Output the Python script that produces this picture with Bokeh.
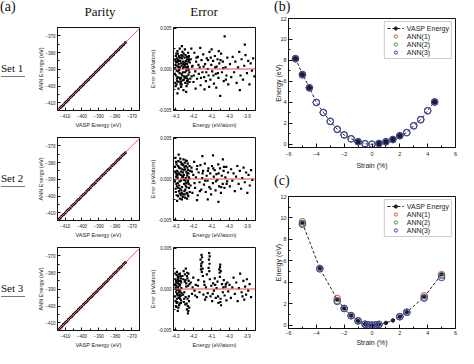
from bokeh.plotting import figure
from bokeh.layouts import row, column
from bokeh.models import Div, Range1d, FixedTicker, Slope, Span, NumeralTickFormatter
from bokeh.embed import file_html
from bokeh.resources import INLINE

# ---------------- data ----------------
set_names = ["Set 1", "Set 2", "Set 3"]

parity_ticks = [-410, -400, -390, -380, -370]
parity_minor = [-415, -405, -395, -385, -375, -365]
err_x_ticks = [-4.3, -4.2, -4.1, -4.0, -3.9]
err_x_minor = [-4.25, -4.15, -4.05, -3.95, -3.85]
err_y_ticks = [-0.005, 0.0, 0.005]
err_y_minor = [-0.0025, 0.0025]
strain_ticks = [-6, -4, -2, 0, 2, 4, 6]
strain_minor = [-5, -3, -1, 1, 3, 5]
energy_ticks = [0, 2, 4, 6, 8, 10, 12]
energy_minor = [1, 3, 5, 7, 9, 11]

vasp_e = [-414.0, -413.0, -412.0, -411.0, -410.0, -409.0, -408.0, -407.0, -406.0, -405.0,
          -404.0, -403.0, -402.0, -401.0, -400.0, -399.0, -398.0, -397.0, -396.0, -395.0,
          -394.0, -393.0, -392.0, -391.0, -390.0, -389.0, -388.0, -387.0, -386.0, -385.0,
          -384.0, -383.0, -382.0, -381.0, -380.0, -379.0, -378.0, -377.0, -376.0, -375.0,
          -374.0]
ann_e_set1 = [-414.1, -412.9, -412.0, -411.1, -409.9, -409.0, -408.1, -406.9, -406.0, -405.1,
              -403.9, -403.0, -402.1, -400.9, -400.0, -399.1, -397.9, -397.0, -396.1, -394.9,
              -394.0, -393.1, -391.9, -391.0, -390.1, -388.9, -388.0, -387.1, -385.9, -385.0,
              -384.1, -382.9, -382.0, -381.1, -379.9, -379.0, -378.1, -376.9, -376.0, -375.1,
              -373.9]
ann_e_set2 = [-413.9, -413.1, -411.9, -411.0, -410.1, -408.9, -408.0, -407.1, -405.9, -405.0,
              -404.1, -402.9, -402.0, -401.1, -399.9, -399.0, -398.1, -396.9, -396.0, -395.1,
              -393.9, -393.0, -392.1, -390.9, -390.0, -389.1, -387.9, -387.0, -386.1, -384.9,
              -384.0, -383.1, -381.9, -381.0, -380.1, -378.9, -378.0, -377.1, -375.9, -375.0,
              -374.1]
ann_e_set3 = [-414.0, -413.1, -412.1, -410.9, -410.0, -409.1, -407.9, -407.0, -406.1, -404.9,
              -404.0, -403.1, -401.9, -401.0, -400.1, -398.9, -398.0, -397.1, -395.9, -395.0,
              -394.1, -392.9, -392.0, -391.1, -389.9, -389.0, -388.1, -386.9, -386.0, -385.1,
              -383.9, -383.0, -382.1, -380.9, -380.0, -379.1, -377.9, -377.0, -376.1, -374.9,
              -374.0]

# (energy per atom, error) pairs
err_set1 = [
    (-4.302, 0.0012), (-4.298, -0.0008), (-4.295, 0.0004), (-4.291, -0.0015), (-4.288, 0.0009),
    (-4.285, -0.0003), (-4.282, 0.0016), (-4.279, -0.0011), (-4.276, 0.0002), (-4.273, -0.0019),
    (-4.270, 0.0007), (-4.267, -0.0006), (-4.264, 0.0013), (-4.261, -0.0014), (-4.258, 0.0001),
    (-4.255, 0.0019), (-4.252, -0.0009), (-4.249, 0.0005), (-4.246, -0.0017), (-4.243, 0.0010),
    (-4.240, -0.0002), (-4.237, 0.0015), (-4.234, -0.0012), (-4.231, 0.0003), (-4.228, -0.0007),
    (-4.225, 0.0011), (-4.222, -0.0016), (-4.300, -0.0021), (-4.296, 0.0019), (-4.290, 0.0022),
    (-4.284, -0.0024), (-4.277, 0.0025), (-4.269, -0.0022), (-4.262, 0.0021), (-4.256, -0.0026),
    (-4.248, 0.0024), (-4.239, -0.0021), (-4.230, 0.0020), (-4.303, 0.0001), (-4.293, -0.0012),
    (-4.287, 0.0003), (-4.280, -0.0001), (-4.272, 0.0014), (-4.266, 0.0004), (-4.259, -0.0004),
    (-4.251, 0.0008), (-4.244, -0.0011), (-4.236, 0.0006), (-4.227, -0.0001), (-4.220, 0.0008),
    (-4.297, 0.0008), (-4.283, 0.0006), (-4.274, -0.0013), (-4.260, 0.0009), (-4.245, 0.0017),
    (-4.233, -0.0018), (-4.290, -0.0030), (-4.265, 0.0028), (-4.241, -0.0028),
    (-4.304, -0.0006), (-4.301, 0.0005), (-4.299, 0.0016), (-4.294, -0.0002), (-4.292, 0.0013),
    (-4.289, -0.0010), (-4.286, 0.0011), (-4.281, 0.0002), (-4.278, -0.0005), (-4.275, 0.0010),
    (-4.271, -0.0016), (-4.268, 0.0017), (-4.263, -0.0008), (-4.257, 0.0006), (-4.254, -0.0013),
    (-4.250, 0.0014), (-4.247, -0.0004), (-4.242, 0.0002), (-4.238, -0.0009), (-4.235, 0.0012),
    (-4.232, -0.0014), (-4.229, 0.0009), (-4.226, 0.0016), (-4.223, -0.0004), (-4.302, -0.0017),
    (-4.295, -0.0019), (-4.288, 0.0019), (-4.279, 0.0014), (-4.270, -0.0011), (-4.261, 0.0016),
    (-4.253, 0.0003), (-4.244, 0.0007), (-4.236, -0.0015), (-4.227, 0.0014), (-4.300, 0.0010),
    (-4.284, -0.0016), (-4.266, -0.0019), (-4.249, -0.0010), (-4.233, 0.0001), (-4.218, -0.0012),
    (-4.215, 0.0012), (-4.210, -0.0009), (-4.205, 0.0004), (-4.200, -0.0016), (-4.195, 0.0020),
    (-4.190, -0.0003), (-4.185, 0.0009), (-4.180, -0.0012), (-4.175, 0.0015), (-4.170, -0.0006),
    (-4.165, 0.0002), (-4.160, -0.0020), (-4.155, 0.0011), (-4.150, -0.0004), (-4.145, 0.0018),
    (-4.140, -0.0010), (-4.135, 0.0006), (-4.130, -0.0015), (-4.125, 0.0013), (-4.120, 0.0000),
    (-4.115, -0.0008), (-4.110, 0.0021), (-4.105, -0.0013), (-4.100, 0.0005), (-4.095, -0.0003),
    (-4.090, 0.0010), (-4.085, -0.0018), (-4.080, 0.0016), (-4.075, -0.0006), (-4.070, 0.0003),
    (-4.065, 0.0012), (-4.060, -0.0011), (-4.055, 0.0007), (-4.050, -0.0033), (-4.045, 0.0019),
    (-4.040, -0.0004), (-4.035, 0.0009), (-4.030, -0.0015), (-4.025, 0.0040), (-4.020, 0.0002),
    (-4.015, -0.0008), (-4.010, 0.0014), (-4.005, -0.0019), (-4.212, 0.0025), (-4.188, -0.0024),
    (-4.162, 0.0026), (-4.138, -0.0025), (-4.112, -0.0022), (-4.098, 0.0024), (-4.072, -0.0023),
    (-4.058, 0.0022),
    (-4.208, 0.0003), (-4.198, -0.0008), (-4.183, 0.0014), (-4.172, 0.0005), (-4.158, -0.0011),
    (-4.143, 0.0003), (-4.128, -0.0004), (-4.118, 0.0011), (-4.103, 0.0014), (-4.088, -0.0008),
    (-4.078, 0.0002), (-4.063, -0.0005), (-4.048, 0.0011), (-4.033, 0.0001), (-4.018, -0.0013),
    (-3.995, 0.0006), (-3.988, -0.0010), (-3.980, 0.0015), (-3.972, -0.0004), (-3.965, 0.0009),
    (-3.958, -0.0017), (-3.950, 0.0002), (-3.943, 0.0021), (-3.936, -0.0008), (-3.930, 0.0012),
    (-3.922, -0.0013), (-3.915, 0.0004), (-3.908, 0.0017), (-3.900, -0.0005), (-3.893, 0.0010),
    (-3.886, -0.0019), (-3.879, 0.0007), (-3.872, -0.0002), (-3.865, 0.0013), (-3.858, -0.0009),
    (-3.912, 0.0030), (-3.940, -0.0026),
]
err_set2 = [
    (-4.303, 0.0015), (-4.300, -0.0012), (-4.297, 0.0003), (-4.294, -0.0020), (-4.291, 0.0010),
    (-4.288, -0.0005), (-4.285, 0.0022), (-4.282, -0.0015), (-4.279, 0.0006), (-4.276, -0.0024),
    (-4.273, 0.0013), (-4.270, -0.0002), (-4.267, 0.0018), (-4.264, -0.0010), (-4.261, 0.0004),
    (-4.258, -0.0019), (-4.255, 0.0011), (-4.252, -0.0006), (-4.249, 0.0020), (-4.246, -0.0013),
    (-4.243, 0.0001), (-4.240, 0.0009), (-4.237, -0.0017), (-4.234, 0.0014), (-4.231, -0.0004),
    (-4.228, 0.0007), (-4.225, -0.0011), (-4.222, 0.0016), (-4.301, 0.0026), (-4.292, -0.0027),
    (-4.283, 0.0030), (-4.274, 0.0025), (-4.265, -0.0025), (-4.256, 0.0024), (-4.247, -0.0023),
    (-4.238, 0.0022), (-4.229, -0.0021), (-4.298, 0.0007), (-4.289, 0.0001), (-4.280, -0.0008),
    (-4.271, 0.0005), (-4.262, 0.0012), (-4.253, -0.0001), (-4.244, -0.0008), (-4.235, 0.0004),
    (-4.226, 0.0002), (-4.296, -0.0006), (-4.286, 0.0016), (-4.277, -0.0018), (-4.268, -0.0014),
    (-4.259, 0.0008), (-4.250, 0.0015), (-4.241, -0.0005), (-4.232, 0.0019),
    (-4.304, -0.0003), (-4.302, 0.0009), (-4.299, -0.0016), (-4.295, 0.0018), (-4.293, -0.0009),
    (-4.290, 0.0004), (-4.287, -0.0021), (-4.284, 0.0008), (-4.281, 0.0014), (-4.278, -0.0003),
    (-4.275, -0.0012), (-4.272, 0.0021), (-4.269, 0.0009), (-4.266, -0.0017), (-4.263, 0.0002),
    (-4.260, -0.0022), (-4.257, 0.0017), (-4.254, 0.0005), (-4.251, -0.0015), (-4.248, 0.0012),
    (-4.245, -0.0002), (-4.242, 0.0016), (-4.239, -0.0010), (-4.236, 0.0007), (-4.233, -0.0019),
    (-4.230, 0.0011), (-4.227, -0.0006), (-4.224, 0.0001), (-4.221, -0.0016), (-4.218, 0.0010),
    (-4.297, 0.0021), (-4.285, -0.0011), (-4.271, -0.0020), (-4.258, 0.0003), (-4.244, 0.0023),
    (-4.230, -0.0002), (-4.292, 0.0006), (-4.263, 0.0019), (-4.249, -0.0019), (-4.236, -0.0024),
    (-4.216, -0.0008), (-4.211, 0.0014), (-4.206, -0.0017), (-4.201, 0.0005), (-4.196, 0.0021),
    (-4.191, -0.0011), (-4.186, 0.0002), (-4.181, 0.0012), (-4.176, -0.0020), (-4.171, 0.0008),
    (-4.166, -0.0004), (-4.161, 0.0017), (-4.156, -0.0013), (-4.151, 0.0001), (-4.146, 0.0010),
    (-4.141, -0.0007), (-4.136, 0.0019), (-4.131, -0.0016), (-4.126, 0.0004), (-4.121, -0.0002),
    (-4.116, 0.0013), (-4.111, -0.0010), (-4.106, 0.0007), (-4.101, -0.0019), (-4.096, 0.0016),
    (-4.091, -0.0005), (-4.086, 0.0003), (-4.081, 0.0011), (-4.076, -0.0014), (-4.071, 0.0006),
    (-4.066, -0.0001), (-4.061, 0.0018), (-4.056, -0.0009), (-4.051, 0.0013), (-4.046, -0.0017),
    (-4.041, 0.0004), (-4.036, -0.0006), (-4.031, 0.0010), (-4.026, -0.0011), (-4.021, 0.0002),
    (-4.016, 0.0015), (-4.011, -0.0003), (-4.006, 0.0008), (-4.180, -0.0026), (-4.150, 0.0028),
    (-4.120, -0.0025), (-4.090, 0.0029), (-4.060, -0.0028), (-4.035, 0.0024),
    (-4.209, 0.0009), (-4.194, -0.0005), (-4.179, 0.0016), (-4.164, -0.0015), (-4.149, 0.0007),
    (-4.134, -0.0002), (-4.119, 0.0010), (-4.104, -0.0012), (-4.089, 0.0013), (-4.074, -0.0003),
    (-4.059, 0.0007), (-4.044, -0.0010), (-4.029, 0.0015), (-4.014, -0.0006),
    (-3.996, -0.0009), (-3.989, 0.0012), (-3.982, -0.0002), (-3.975, 0.0007), (-3.968, -0.0015),
    (-3.961, 0.0003), (-3.954, 0.0016), (-3.947, -0.0006), (-3.940, 0.0010), (-3.933, -0.0012),
    (-3.926, 0.0001), (-3.919, 0.0014), (-3.912, -0.0004), (-3.905, 0.0008), (-3.898, -0.0017),
    (-3.891, 0.0005), (-3.884, -0.0008), (-3.877, 0.0011), (-3.870, -0.0001),
]
err_set3 = [
    (-4.302, 0.0012), (-4.300, -0.0015), (-4.298, 0.0004), (-4.296, -0.0022), (-4.294, 0.0017),
    (-4.292, -0.0006), (-4.290, 0.0009), (-4.288, -0.0027), (-4.286, 0.0002), (-4.284, 0.0014),
    (-4.282, -0.0011), (-4.280, 0.0006), (-4.278, -0.0018), (-4.276, 0.0019), (-4.274, -0.0003),
    (-4.272, 0.0010), (-4.270, -0.0008), (-4.268, 0.0001), (-4.299, 0.0007), (-4.293, -0.0012),
    (-4.287, 0.0015), (-4.281, -0.0020), (-4.275, 0.0005), (-4.269, -0.0014), (-4.297, -0.0004),
    (-4.289, 0.0003), (-4.283, -0.0001),
    (-4.304, 0.0005), (-4.303, -0.0009), (-4.301, 0.0019), (-4.299, -0.0021), (-4.297, 0.0010),
    (-4.295, -0.0001), (-4.293, 0.0021), (-4.291, -0.0016), (-4.289, -0.0008), (-4.287, 0.0007),
    (-4.285, -0.0023), (-4.283, 0.0018), (-4.281, 0.0010), (-4.279, -0.0007), (-4.277, 0.0004),
    (-4.275, -0.0012), (-4.273, 0.0016), (-4.271, -0.0017), (-4.269, 0.0008), (-4.267, -0.0005),
    (-4.300, 0.0001), (-4.294, -0.0017), (-4.288, 0.0012), (-4.282, -0.0004), (-4.276, -0.0009),
    (-4.270, 0.0013),
    (-4.262, 0.0016), (-4.258, -0.0007), (-4.255, 0.0022), (-4.252, -0.0012), (-4.249, 0.0009),
    (-4.246, -0.0019), (-4.243, 0.0025), (-4.240, 0.0003), (-4.237, -0.0025), (-4.234, 0.0013),
    (-4.231, -0.0030), (-4.228, 0.0019), (-4.225, -0.0015), (-4.222, 0.0006), (-4.232, -0.0021),
    (-4.229, -0.0027), (-4.235, 0.0020), (-4.245, 0.0011), (-4.251, -0.0004), (-4.226, -0.0009),
    (-4.257, 0.0012), (-4.254, -0.0016), (-4.248, 0.0018), (-4.244, -0.0010), (-4.241, 0.0007),
    (-4.238, -0.0018), (-4.236, 0.0016), (-4.233, -0.0012), (-4.230, 0.0004), (-4.227, 0.0010),
    (-4.224, -0.0023),
    (-4.215, 0.0008), (-4.208, -0.0006), (-4.201, 0.0014), (-4.194, -0.0002), (-4.187, 0.0005),
    (-4.180, -0.0010), (-4.173, 0.0011), (-4.166, -0.0004), (-4.160, 0.0036), (-4.157, 0.0028),
    (-4.155, 0.0042), (-4.153, 0.0021), (-4.150, 0.0033), (-4.147, 0.0016), (-4.144, -0.0007),
    (-4.140, 0.0009), (-4.135, -0.0013), (-4.130, 0.0002), (-4.125, 0.0018), (-4.120, -0.0005),
    (-4.115, 0.0026), (-4.112, 0.0044), (-4.110, 0.0031), (-4.108, 0.0012), (-4.104, -0.0009),
    (-4.100, 0.0004),
    (-4.158, 0.0024), (-4.156, 0.0031), (-4.152, 0.0039), (-4.149, 0.0025), (-4.113, 0.0036),
    (-4.111, 0.0022), (-4.109, 0.0040), (-4.053, 0.0020), (-4.051, 0.0027), (-4.049, -0.0016),
    (-4.047, 0.0022), (-4.205, 0.0002), (-4.190, -0.0008), (-4.175, 0.0004), (-4.138, 0.0005),
    (-4.128, -0.0010), (-4.092, -0.0006), (-4.078, 0.0005), (-4.062, -0.0009), (-4.032, 0.0002),
    (-4.018, 0.0006),
    (-4.095, -0.0015), (-4.090, 0.0007), (-4.085, -0.0002), (-4.080, 0.0013), (-4.075, -0.0011),
    (-4.070, 0.0001), (-4.065, 0.0009), (-4.060, -0.0017), (-4.055, 0.0024), (-4.052, 0.0015),
    (-4.050, 0.0030), (-4.048, -0.0012), (-4.045, -0.0020), (-4.040, 0.0006), (-4.035, -0.0004),
    (-4.030, 0.0011), (-4.025, -0.0008), (-4.020, 0.0003), (-4.015, -0.0014), (-4.010, 0.0008),
    (-4.005, -0.0003),
    (-3.998, 0.0005), (-3.990, -0.0011), (-3.982, 0.0002), (-3.975, 0.0014), (-3.968, -0.0006),
    (-3.960, 0.0008), (-3.952, -0.0015), (-3.945, 0.0001), (-3.938, 0.0019), (-3.930, -0.0004),
    (-3.925, -0.0009), (-3.920, 0.0010), (-3.915, -0.0013), (-3.910, 0.0003), (-3.905, -0.0007),
    (-3.900, 0.0012), (-3.893, -0.0002), (-3.885, 0.0006), (-3.877, -0.0010),
]

# panel (b)
strain_b = [-5.5, -5.0, -4.5, -4.0, -3.5, -3.0, -2.5, -2.0, -1.5, -1.0, -0.5,
            0.0, 0.5, 1.0, 1.5, 2.0, 2.5, 3.0, 3.5, 4.0, 4.5]
vasp_b = [8.20, 6.70, 5.41, 4.00, 3.06, 2.20, 1.44, 0.89, 0.53, 0.25, 0.06,
          0.00, 0.08, 0.25, 0.46, 0.83, 1.10, 1.78, 2.36, 3.21, 4.07]
ann1_b = [8.15, 6.62, 5.38, 3.98, 3.03, 2.18, 1.42, 0.90, 0.52, 0.24, 0.05,
          0.01, 0.07, 0.23, 0.47, 0.81, 1.13, 1.75, 2.33, 3.19, 4.02]
ann2_b = [8.18, 6.66, 5.40, 3.99, 3.05, 2.21, 1.45, 0.88, 0.54, 0.26, 0.06,
          0.00, 0.09, 0.24, 0.45, 0.84, 1.11, 1.79, 2.35, 3.22, 4.05]
ann3_b = [8.16, 6.64, 5.39, 4.01, 3.04, 2.19, 1.43, 0.91, 0.53, 0.25, 0.07,
          0.02, 0.08, 0.26, 0.46, 0.82, 1.12, 1.77, 2.37, 3.20, 4.04]
# VASP points drawn as solid markers in (b)
vasp_mark_strain_b = [-5.5, -5.0, -4.5, -1.0, 0.5, 1.0, 1.5, 2.0, 4.5]
vasp_mark_b = [8.20, 6.70, 5.41, 0.25, 0.08, 0.25, 0.46, 0.83, 4.07]

# panel (c)
strain_c = [-5.0, -3.75, -2.5, -2.0, -1.5, -1.0, -0.5, -0.25, 0.0, 0.25, 0.5,
            1.0, 1.5, 2.0, 2.5, 3.75, 5.0]
vasp_c = [9.55, 5.30, 2.42, 1.57, 0.90, 0.40, 0.10, 0.03, 0.00, 0.03, 0.08,
          0.22, 0.45, 0.80, 1.22, 2.65, 4.75]
ann_strain_c = [-5.0, -3.75, -2.5, -2.0, -1.5, -1.0, -0.5, -0.25, 0.0, 0.25, 0.5,
                2.0, 2.5, 3.75, 5.0]
ann1_c = [9.65, 5.28, 2.50, 1.55, 0.88, 0.41, 0.09, 0.02, 0.01, 0.02, 0.09,
          0.79, 1.20, 2.75, 4.72]
ann2_c = [9.50, 5.31, 2.30, 1.58, 0.91, 0.39, 0.11, 0.04, 0.00, 0.04, 0.07,
          0.81, 1.23, 2.60, 4.62]
ann3_c = [9.40, 5.25, 2.22, 1.56, 0.89, 0.42, 0.10, 0.03, 0.02, 0.03, 0.08,
          0.80, 1.21, 2.52, 4.45]

ann_labels = ["ANN(1)", "ANN(2)", "ANN(3)"]
ann_colors = ["#d9443f", "#3a9a3a", "#3b3bbf"]

# ---------------- styling helpers ----------------
SANS = "Liberation Sans"
SERIF = "Liberation Serif"


def style_axis(ax, tick_fs, label_fs, tin=3, mtin=2, lstand=2, astand=2):
    ax.major_label_text_font = SANS
    ax.major_label_text_font_size = tick_fs
    ax.major_label_text_color = "#222222"
    ax.axis_label_text_font = SANS
    ax.axis_label_text_font_size = label_fs
    ax.axis_label_text_font_style = "normal"
    ax.axis_label_text_color = "#222222"
    ax.major_tick_in = tin
    ax.major_tick_out = 0
    ax.minor_tick_in = mtin
    ax.minor_tick_out = 0
    ax.axis_line_color = "#111111"
    ax.major_tick_line_color = "#111111"
    ax.minor_tick_line_color = "#111111"
    ax.major_label_standoff = lstand
    ax.axis_label_standoff = astand


def base_fig(w, h, xr, yr, left, right, top, bottom):
    p = figure(width=w, height=h, x_range=Range1d(*xr), y_range=Range1d(*yr),
               output_backend="svg", toolbar_location=None,
               min_border_left=left, min_border_right=right,
               min_border_top=top, min_border_bottom=bottom)
    p.xgrid.visible = False
    p.ygrid.visible = False
    p.outline_line_color = "#111111"
    p.outline_line_width = 1
    p.background_fill_color = "white"
    p.border_fill_color = "white"
    return p


def parity_fig(ann, h, top, bottom):
    p = base_fig(117, h, (-414.6, -365.5), (-414.6, -365.0), 31, 4, top, bottom)
    p.add_layout(Slope(gradient=1, y_intercept=0, line_color="#f05a5a", line_width=1))
    p.scatter(vasp_e, ann, marker="circle", size=3, color="#000000", line_width=0)
    p.xaxis.ticker = FixedTicker(ticks=parity_ticks, minor_ticks=parity_minor)
    p.yaxis.ticker = FixedTicker(ticks=parity_ticks, minor_ticks=parity_minor)
    p.xaxis.axis_label = "VASP Energy (eV)"
    p.yaxis.axis_label = "ANN Energy (eV)"
    style_axis(p.xaxis[0], "4.5px", "5.6px", lstand=3, astand=1)
    style_axis(p.yaxis[0], "4.5px", "5.6px", lstand=2, astand=-2)
    return p


def error_fig(pairs, h, top, bottom):
    xs = [a for a, b in pairs]
    ys = [b for a, b in pairs]
    p = base_fig(117, h, (-4.312, -3.852), (-0.0051, 0.0051), 30, 5, top, bottom)
    p.add_layout(Span(location=0, dimension="width", line_color="#e8474c", line_width=1))
    p.scatter(xs, ys, marker="square", size=2.2, fill_color="#000000", line_color=None)
    p.xaxis.ticker = FixedTicker(ticks=err_x_ticks, minor_ticks=err_x_minor)
    p.yaxis.ticker = FixedTicker(ticks=err_y_ticks, minor_ticks=err_y_minor)
    p.xaxis.formatter = NumeralTickFormatter(format="0.0")
    p.yaxis.formatter = NumeralTickFormatter(format="0.000")
    p.xaxis.axis_label = "Energy (eV/atom)"
    p.yaxis.axis_label = "Error (eV/atom)"
    style_axis(p.xaxis[0], "4.5px", "5.6px", lstand=3, astand=1)
    style_axis(p.yaxis[0], "4.5px", "5.6px", lstand=2, astand=0)
    return p


def strain_fig(strain, vasp, ann_strain, anns, mark_strain, mark_vals, mark_size,
               top, frame_h, bottom, lstand, astand):
    p = base_fig(198, top + frame_h + bottom, (-6, 6), (-0.3, 12), 28, 3, top, bottom)
    p.line(strain, vasp, line_color="#222222", line_width=1, line_dash="3 2",
           legend_label="VASP Energy")
    p.scatter(mark_strain, mark_vals, marker="circle", size=mark_size, fill_color="#1b1b33",
              line_color="#1b1b33", line_width=1, legend_label="VASP Energy")
    for a, lab, col in zip(anns, ann_labels, ann_colors):
        p.scatter(ann_strain, a, marker="circle", size=6.5, fill_color=None,
                  line_color=col, line_width=1, legend_label=lab)
    p.xaxis.ticker = FixedTicker(ticks=strain_ticks, minor_ticks=strain_minor)
    p.yaxis.ticker = FixedTicker(ticks=energy_ticks, minor_ticks=energy_minor)
    p.xaxis.axis_label = "Strain (%)"
    p.yaxis.axis_label = "Energy (eV)"
    style_axis(p.xaxis[0], "5.5px", "7px", tin=4, mtin=2, lstand=lstand, astand=astand)
    style_axis(p.yaxis[0], "5.5px", "7px", tin=4, mtin=2, lstand=2, astand=-5)
    lg = p.legend[0]
    lg.location = "top_right"
    lg.margin = 3
    lg.padding = 2
    lg.spacing = 0
    lg.label_height = 8
    lg.glyph_height = 8
    lg.glyph_width = 17
    lg.label_standoff = 3
    lg.label_text_font = SANS
    lg.label_text_font_size = "7px"
    lg.label_text_color = "#222222"
    lg.border_line_color = "#999999"
    lg.border_line_width = 1
    lg.background_fill_alpha = 1
    return p


def set_div(name, h, top):
    html = ("<div style=\"position:relative;width:26px;height:%dpx;\">"
            "<span style=\"position:absolute;left:1px;top:%dpx;font-family:'%s';"
            "font-size:11px;line-height:11px;color:#111;white-space:nowrap;"
            "border-bottom:1px solid #777;padding:0 2px 2px 0;\">%s</span></div>") % (h, top, SERIF, name)
    return Div(text=html, width=26, height=h, margin=0)


header = Div(text=(
    "<div style=\"position:relative;width:260px;height:23px;font-family:'%s';color:#111;\">"
    "<div style=\"position:absolute;left:0px;top:0px;font-size:14px;line-height:14px;\">(a)</div>"
    "<div style=\"position:absolute;left:60px;top:5px;width:80px;text-align:center;"
    "font-size:13px;line-height:13px;\">Parity</div>"
    "<div style=\"position:absolute;left:164px;top:5px;width:80px;text-align:center;"
    "font-size:13px;line-height:13px;\">Error</div></div>") % SERIF,
    width=260, height=23, margin=0)

ann_sets = [ann_e_set1, ann_e_set2, ann_e_set3]
err_sets = [err_set1, err_set2, err_set3]
rows = [header]
for i in range(3):
    rows.append(row(set_div(set_names[i], 110, 40),
                    parity_fig(ann_sets[i], 110, 4, 23),
                    error_fig(err_sets[i], 110, 4, 23)))
left_col = column(*rows)


def panel_div(label, h, top, mtop=0):
    html = ("<div style=\"position:relative;width:198px;height:%dpx;font-family:'%s';color:#111;\">"
            "<div style=\"position:absolute;left:14px;top:%dpx;font-size:14px;line-height:14px;\">%s</div>"
            "</div>") % (h, SERIF, top, label)
    return Div(text=html, width=198, height=h, margin=(mtop, 0, 0, 0))


fig_b = strain_fig(strain_b, vasp_b, strain_b, [ann1_b, ann2_b, ann3_b],
                   vasp_mark_strain_b, vasp_mark_b, 5.5, 5, 129, 33, 4, 3)
fig_c = strain_fig(strain_c, vasp_c, ann_strain_c, [ann1_c, ann2_c, ann3_c],
                   strain_c, vasp_c, 3.5, 6, 132, 30, 2, 1)
right_col = column(panel_div("(b)", 13, 0), fig_b, panel_div("(c)", 19, 3, -9), fig_c)

layout = row(left_col, right_col, height=348, styles={"overflow": "hidden"})

open("out.html", "w").write(file_html(layout, INLINE))
